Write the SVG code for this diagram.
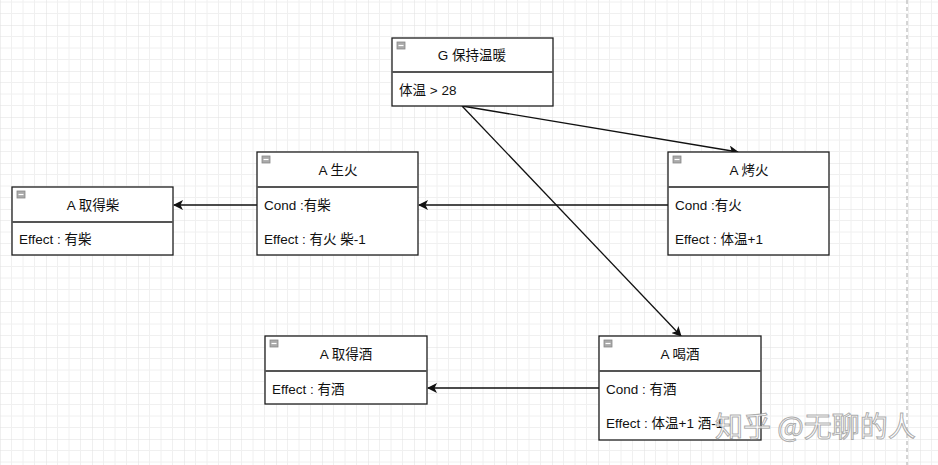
<svg xmlns="http://www.w3.org/2000/svg" width="938" height="465" viewBox="0 0 938 465">
<style>
.box{fill:#fff;stroke:#1e1e1e;stroke-width:1.3}
.div{stroke:#555;stroke-width:1.8}
.ttl{font-family:"Liberation Sans","Noto Sans CJK SC",sans-serif;font-size:13.5px;fill:#111;text-anchor:middle}
.txt{font-family:"Liberation Sans","Noto Sans CJK SC",sans-serif;font-size:13.5px;fill:#111}
.ico{fill:#aaa;stroke:#888;stroke-width:0.8}
.icl{stroke:#fff;stroke-width:1.2}
.edge{stroke:#111;stroke-width:1.3;fill:none;marker-end:url(#arr)}
</style>
<defs>
<pattern id="grid" patternUnits="userSpaceOnUse" x="0" y="25" width="46" height="46">
<path d="M11.5 0V46M23 0V46M34.5 0V46M0 11.5H46M0 23H46M0 34.5H46" stroke="#f0f0f0" stroke-width="1" fill="none"/>
<path d="M0 0V46M0 0H46" stroke="#e0e0e0" stroke-width="1" fill="none"/>
</pattern>
<marker id="arr" viewBox="0 0 10 10" refX="9" refY="5" markerWidth="10" markerHeight="10" markerUnits="userSpaceOnUse" orient="auto">
<path d="M0 0L10 5L0 10L2.5 5Z" fill="#111"/>
</marker>
<g id="icon">
<rect class="ico" x="0" y="0" width="8" height="7"/>
<line class="icl" x1="1.5" y1="3.5" x2="6.5" y2="3.5"/>
</g>
</defs>
<rect width="938" height="465" fill="#fff"/>
<rect width="938" height="465" fill="url(#grid)"/>
<line x1="907" y1="0" x2="907" y2="465" stroke="#aaa" stroke-width="1" stroke-dasharray="4 3"/>

<g id="connectors">
<line class="edge" x1="462" y1="106" x2="738" y2="152"/>
<line class="edge" x1="462" y1="106" x2="681" y2="336"/>
<line class="edge" x1="257" y1="205" x2="174" y2="205"/>
<line class="edge" x1="668" y1="205" x2="419" y2="205"/>
<line class="edge" x1="599" y1="388" x2="428" y2="388"/>
</g>

<g id="goal">
<rect class="box" x="392" y="38" width="161" height="68"/>
<line class="div" x1="392" y1="72" x2="553" y2="72"/>
<use href="#icon" x="397" y="42"/>
<text class="ttl" x="472" y="60">G 保持温暖</text>
<text class="txt" x="399" y="95">体温 &gt; 28</text>
</g>

<g id="get-wood">
<rect class="box" x="12" y="187" width="161" height="68"/>
<line class="div" x1="12" y1="222" x2="173" y2="222"/>
<use href="#icon" x="17" y="191"/>
<text class="ttl" x="93" y="210">A 取得柴</text>
<text class="txt" x="19" y="244">Effect : 有柴</text>
</g>

<g id="make-fire">
<rect class="box" x="257" y="152" width="161" height="103"/>
<line class="div" x1="257" y1="187" x2="418" y2="187"/>
<use href="#icon" x="262" y="156"/>
<text class="ttl" x="338" y="175">A 生火</text>
<text class="txt" x="264" y="210">Cond :有柴</text>
<text class="txt" x="264" y="244">Effect : 有火 柴-1</text>
</g>

<g id="warm-fire">
<rect class="box" x="668" y="152" width="161" height="103"/>
<line class="div" x1="668" y1="187" x2="829" y2="187"/>
<use href="#icon" x="673" y="156"/>
<text class="ttl" x="749" y="175">A 烤火</text>
<text class="txt" x="675" y="210">Cond :有火</text>
<text class="txt" x="675" y="244">Effect : 体温+1</text>
</g>

<g id="get-wine">
<rect class="box" x="265" y="336" width="162" height="68"/>
<line class="div" x1="265" y1="371" x2="427" y2="371"/>
<use href="#icon" x="270" y="340"/>
<text class="ttl" x="346" y="359">A 取得酒</text>
<text class="txt" x="272" y="394">Effect : 有酒</text>
</g>

<g id="drink-wine">
<rect class="box" x="599" y="336" width="162" height="104"/>
<line class="div" x1="599" y1="371" x2="761" y2="371"/>
<use href="#icon" x="604" y="340"/>
<text class="ttl" x="680" y="359">A 喝酒</text>
<text class="txt" x="606" y="394">Cond : 有酒</text>
<text class="txt" x="606" y="428">Effect : 体温+1 酒-1</text>
</g>

<text x="715" y="437" font-family="'Noto Sans CJK SC',sans-serif" font-size="28" fill="#fff" fill-opacity="0.75" stroke="#888" stroke-opacity="0.7" stroke-width="1">知乎 @无聊的人</text>
</svg>
